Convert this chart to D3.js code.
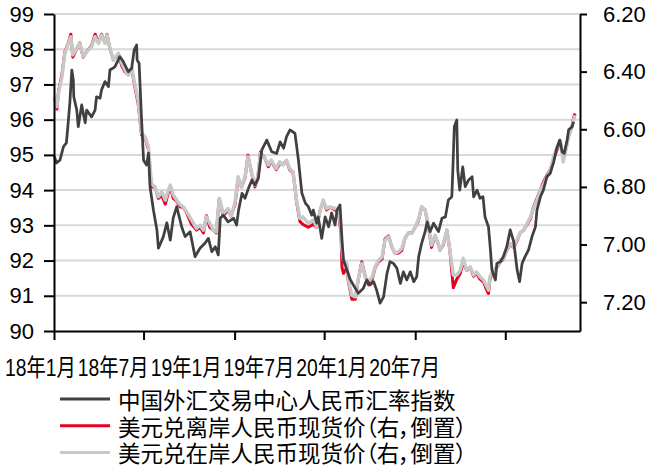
<!DOCTYPE html>
<html>
<head>
<meta charset="utf-8">
<script src="https://cdn.jsdelivr.net/npm/d3@7"></script>
<style>
  body { margin: 0; background: #fff; }
  text { font-family: "Liberation Sans", Arial, "Noto Sans CJK SC", sans-serif; fill: #000; }
  .legend text { font-family: "Noto Sans CJK SC", sans-serif; font-feature-settings: "palt"; }
</style>
</head>
<body>
<svg id="chart" width="648" height="469"></svg>
<script>
// CFETS RMB index (left axis)
var indexDates = [
  "2018-01-02","2018-01-06","2018-01-13","2018-01-20","2018-01-26","2018-01-29","2018-02-02","2018-02-06","2018-02-09","2018-02-10",
  "2018-02-16","2018-02-19","2018-02-26","2018-03-01","2018-03-05","2018-03-08","2018-03-18","2018-03-25","2018-03-28","2018-04-04",
  "2018-04-07","2018-04-14","2018-04-21","2018-04-24","2018-05-04","2018-05-14","2018-05-21","2018-05-31","2018-06-07","2018-06-12",
  "2018-06-17","2018-06-18","2018-06-22","2018-06-27","2018-07-01","2018-07-07","2018-07-11","2018-07-14","2018-07-21","2018-07-28",
  "2018-07-31","2018-08-10","2018-08-17","2018-08-24","2018-08-30","2018-09-06","2018-09-16","2018-09-23","2018-10-03","2018-10-13",
  "2018-10-23","2018-11-02","2018-11-09","2018-11-16","2018-11-23","2018-11-29","2018-12-03","2018-12-09","2018-12-19","2018-12-30",
  "2019-01-05","2019-01-09","2019-01-16","2019-01-22","2019-01-29","2019-02-05","2019-02-11","2019-02-18","2019-02-25","2019-03-07",
  "2019-03-17","2019-03-27","2019-04-03","2019-04-10","2019-04-16","2019-04-23","2019-05-03","2019-05-10","2019-05-17","2019-05-24",
  "2019-05-30","2019-06-06","2019-06-09","2019-06-16","2019-06-19","2019-06-26","2019-07-03","2019-07-10","2019-07-16","2019-07-23",
  "2019-07-27","2019-08-02","2019-08-06","2019-08-09","2019-08-16","2019-08-23","2019-09-02","2019-09-08","2019-09-18","2019-09-25",
  "2019-10-02","2019-10-09","2019-10-15","2019-10-22","2019-10-29","2019-11-05","2019-11-11","2019-11-18","2019-11-25","2019-12-02",
  "2019-12-08","2019-12-15","2019-12-22","2019-12-29","2020-01-04","2020-01-08","2020-01-14","2020-01-21","2020-01-25","2020-01-31",
  "2020-02-07","2020-02-17","2020-02-24","2020-03-02","2020-03-08","2020-03-15","2020-03-17","2020-03-20","2020-03-25","2020-03-27",
  "2020-03-31","2020-04-06","2020-04-11","2020-04-18","2020-04-25","2020-04-28","2020-05-05","2020-05-11","2020-05-17","2020-05-21",
  "2020-05-28","2020-06-01","2020-06-04","2020-06-11","2020-06-14","2020-06-21","2020-06-27","2020-07-04","2020-07-11","2020-07-18",
  "2020-07-25","2020-07-30","2020-08-04","2020-08-10","2020-08-17","2020-08-24","2020-08-31","2020-09-03","2020-09-10","2020-09-16",
  "2020-09-23","2020-09-30","2020-10-07","2020-10-13","2020-10-19","2020-10-24","2020-10-28","2020-11-03","2020-11-06","2020-11-13",
  "2020-11-16"
];
var cfetsIndex = [
  94.95, 94.77, 94.85, 95.23, 95.34, 95.80, 96.47, 97.41, 97.13, 96.65,
  96.27, 95.80, 96.42, 96.19, 95.91, 96.27, 96.08, 96.27, 96.65, 96.61,
  96.84, 97.08, 96.94, 97.41, 97.50, 97.79, 97.65, 97.36, 97.46, 97.98,
  98.12, 97.69, 97.60, 95.99, 94.85, 94.71, 95.05, 94.10, 93.43, 92.87,
  92.35, 92.68, 93.07, 92.58, 93.21, 93.53, 92.96, 92.68, 92.82, 92.11,
  92.35, 92.49, 92.63, 92.25, 92.39, 92.16, 93.20, 93.29, 93.10, 93.20,
  93.01, 93.43, 93.91, 93.77, 94.05, 94.29, 94.14, 94.34, 95.14, 95.42,
  95.09, 95.04, 95.37, 95.19, 95.52, 95.71, 95.61, 94.85, 93.91, 93.63,
  93.53, 93.29, 93.43, 93.06, 93.24, 92.63, 93.24, 92.96, 93.35, 93.01,
  93.43, 93.58, 92.58, 92.02, 91.73, 91.45, 91.21, 91.07, 91.21, 91.45,
  91.31, 91.40, 91.16, 90.79, 90.97, 91.64, 91.97, 91.92, 91.78, 91.35,
  91.68, 91.45, 91.68, 91.40, 91.54, 92.11, 92.49, 92.82, 93.10, 92.82,
  93.06, 92.82, 93.20, 93.24, 93.72, 93.81, 94.57, 95.80, 95.99, 94.57,
  94.00, 94.66, 94.10, 94.29, 94.38, 93.81, 94.00, 93.77, 93.81, 93.24,
  92.96, 92.30, 91.73, 91.45, 91.92, 91.97, 92.11, 92.39, 92.87, 92.54,
  91.73, 91.40, 91.92, 92.11, 92.30, 92.68, 92.96, 93.43, 93.81, 94.00,
  94.38, 94.48, 94.81, 95.19, 95.42, 95.09, 95.04, 95.42, 95.71, 95.80,
  95.94
];

// USD/CNY onshore and USD/CNH offshore (right axis, inverted)
var fxDates = [
  "2018-01-02","2018-01-07","2018-01-10","2018-01-17","2018-01-23","2018-01-30","2018-02-04","2018-02-08","2018-02-16","2018-02-22",
  "2018-03-01","2018-03-08","2018-03-18","2018-03-25","2018-04-01","2018-04-07","2018-04-14","2018-04-18","2018-04-24","2018-05-01",
  "2018-05-11","2018-05-18","2018-05-24","2018-05-31","2018-06-07","2018-06-13","2018-06-20","2018-06-27","2018-07-04","2018-07-11",
  "2018-07-14","2018-07-17","2018-07-24","2018-07-31","2018-08-07","2018-08-14","2018-08-20","2018-08-24","2018-08-30","2018-09-06",
  "2018-09-13","2018-09-19","2018-09-26","2018-10-06","2018-10-16","2018-10-23","2018-10-30","2018-11-05","2018-11-12","2018-11-19",
  "2018-11-25","2018-12-01","2018-12-09","2018-12-19","2018-12-25","2019-01-02","2019-01-08","2019-01-15","2019-01-22","2019-01-28",
  "2019-02-04","2019-02-11","2019-02-17","2019-02-22","2019-03-03","2019-03-10","2019-03-16","2019-03-26","2019-04-02","2019-04-09",
  "2019-04-16","2019-04-22","2019-04-29","2019-05-03","2019-05-06","2019-05-13","2019-05-19","2019-05-30","2019-06-09","2019-06-16",
  "2019-06-23","2019-06-29","2019-07-06","2019-07-13","2019-07-23","2019-07-30","2019-08-04","2019-08-06","2019-08-09","2019-08-16",
  "2019-08-19","2019-08-26","2019-09-02","2019-09-08","2019-09-15","2019-09-22","2019-09-29","2019-10-06","2019-10-12","2019-10-19",
  "2019-10-26","2019-11-01","2019-11-08","2019-11-15","2019-11-21","2019-11-28","2019-12-05","2019-12-11","2019-12-18","2019-12-25",
  "2020-01-01","2020-01-07","2020-01-14","2020-01-21","2020-01-27","2020-02-03","2020-02-10","2020-02-17","2020-02-20","2020-02-27",
  "2020-03-05","2020-03-11","2020-03-18","2020-03-25","2020-04-01","2020-04-07","2020-04-14","2020-04-21","2020-04-28","2020-05-04",
  "2020-05-11","2020-05-18","2020-05-25","2020-05-28","2020-05-31","2020-06-07","2020-06-14","2020-06-21","2020-06-27","2020-07-04",
  "2020-07-11","2020-07-18","2020-07-24","2020-07-31","2020-08-07","2020-08-14","2020-08-21","2020-08-27","2020-09-03","2020-09-10",
  "2020-09-17","2020-09-23","2020-09-30","2020-10-07","2020-10-14","2020-10-20","2020-10-26","2020-10-30","2020-11-06","2020-11-13",
  "2020-11-16","2020-11-19"
];
var cnyOnshore = [
  6.487, 6.522, 6.475, 6.418, 6.336, 6.302, 6.279, 6.342, 6.319, 6.302,
  6.348, 6.331, 6.314, 6.279, 6.302, 6.273, 6.302, 6.273, 6.319, 6.360,
  6.336, 6.371, 6.394, 6.412, 6.389, 6.441, 6.499, 6.614, 6.626, 6.661,
  6.730, 6.788, 6.800, 6.834, 6.817, 6.846, 6.811, 6.794, 6.828, 6.846,
  6.863, 6.869, 6.886, 6.915, 6.944, 6.933, 6.950, 6.904, 6.927, 6.950,
  6.956, 6.840, 6.892, 6.875, 6.904, 6.852, 6.765, 6.800, 6.765, 6.695,
  6.748, 6.794, 6.765, 6.684, 6.701, 6.724, 6.707, 6.736, 6.713, 6.724,
  6.707, 6.736, 6.748, 6.800, 6.846, 6.909, 6.904, 6.927, 6.915, 6.939,
  6.881, 6.846, 6.875, 6.869, 6.875, 6.881, 6.939, 7.019, 7.054, 7.066,
  7.124, 7.176, 7.182, 7.118, 7.066, 7.112, 7.129, 7.112, 7.077, 7.054,
  7.043, 6.985, 6.973, 7.008, 7.031, 7.025, 7.014, 6.979, 6.961, 6.961,
  6.939, 6.915, 6.869, 6.881, 6.927, 7.002, 6.967, 7.002, 7.019, 6.996,
  6.950, 7.019, 7.106, 7.106, 7.089, 7.048, 7.089, 7.077, 7.106, 7.095,
  7.112, 7.124, 7.147, 7.158, 7.112, 7.089, 7.077, 7.054, 7.048, 7.019,
  6.996, 7.008, 6.985, 6.961, 6.950, 6.927, 6.904, 6.875, 6.846, 6.811,
  6.788, 6.765, 6.742, 6.695, 6.661, 6.638, 6.713, 6.684, 6.626, 6.591,
  6.568, 6.551
];
var cnhOffshore = [
  6.49, 6.53, 6.47, 6.41, 6.33, 6.30, 6.27, 6.35, 6.32, 6.30,
  6.35, 6.33, 6.31, 6.27, 6.30, 6.27, 6.30, 6.27, 6.32, 6.36,
  6.34, 6.38, 6.40, 6.41, 6.39, 6.45, 6.51, 6.62, 6.63, 6.67,
  6.74, 6.80, 6.80, 6.84, 6.83, 6.86, 6.82, 6.80, 6.84, 6.85,
  6.87, 6.87, 6.89, 6.93, 6.95, 6.94, 6.96, 6.90, 6.94, 6.95,
  6.96, 6.84, 6.90, 6.88, 6.90, 6.86, 6.77, 6.80, 6.77, 6.69,
  6.75, 6.80, 6.77, 6.68, 6.70, 6.73, 6.71, 6.74, 6.72, 6.72,
  6.71, 6.74, 6.75, 6.80, 6.85, 6.92, 6.93, 6.94, 6.93, 6.94,
  6.88, 6.85, 6.88, 6.87, 6.88, 6.89, 6.96, 7.08, 7.10, 7.08,
  7.13, 7.19, 7.19, 7.12, 7.06, 7.11, 7.14, 7.12, 7.08, 7.06,
  7.05, 6.98, 6.97, 7.01, 7.03, 7.03, 7.02, 6.98, 6.96, 6.96,
  6.94, 6.92, 6.87, 6.88, 6.93, 7.01, 6.97, 7.00, 7.02, 7.00,
  6.95, 7.02, 7.15, 7.12, 7.10, 7.06, 7.09, 7.08, 7.11, 7.10,
  7.12, 7.13, 7.16, 7.17, 7.12, 7.09, 7.08, 7.06, 7.05, 7.02,
  7.00, 7.01, 6.99, 6.96, 6.95, 6.93, 6.91, 6.87, 6.84, 6.81,
  6.78, 6.76, 6.74, 6.70, 6.67, 6.64, 6.70, 6.68, 6.62, 6.59,
  6.56, 6.545
];

var leftTicks = [90, 91, 92, 93, 94, 95, 96, 97, 98, 99];
var rightTicks = [6.2, 6.4, 6.6, 6.8, 7.0, 7.2];
var monthTicks = ["2018-01-01","2018-07-01","2019-01-01","2019-07-01","2020-01-01","2020-07-01"];
var monthLabels = ["18年1月","18年7月","19年1月","19年7月","20年1月","20年7月"];
var seriesNames = ["中国外汇交易中心人民币汇率指数", "美元兑离岸人民币现货价（右，倒置）", "美元兑在岸人民币现货价（右，倒置）"];
var seriesColors = ["#404040", "#e8001e", "#c8c8c8"];

var parse = d3.timeParse("%Y-%m-%d");
var svg = d3.select("#chart");
var plot = { left: 54, right: 580, top: 14, bottom: 331 };

var x = d3.scaleTime().domain([parse("2018-01-01"), parse("2020-11-29")]).range([plot.left, plot.right]);
var yL = d3.scaleLinear().domain([90, 99]).range([plot.bottom, plot.top]);
var yR = d3.scaleLinear().domain([7.3, 6.2]).range([plot.bottom, plot.top]);

// gridlines
svg.append("g")
   .selectAll("line")
   .data(leftTicks.slice(1))
   .enter().append("line")
           .attr("x1", plot.left).attr("x2", plot.right)
           .attr("y1", function(d) { return yL(d); })
           .attr("y2", function(d) { return yL(d); })
           .attr("stroke", "#d9d9d9").attr("stroke-width", 2);

var idx = indexDates.map(function(d, i) { return { date: parse(d), v: cfetsIndex[i] }; });
var cny = fxDates.map(function(d, i) { return { date: parse(d), v: cnyOnshore[i] }; });
var cnh = fxDates.map(function(d, i) { return { date: parse(d), v: cnhOffshore[i] }; });

var lineL = d3.line().x(function(d) { return x(d.date); }).y(function(d) { return yL(d.v); });
var lineR = d3.line().x(function(d) { return x(d.date); }).y(function(d) { return yR(d.v); });

svg.append("path").datum(cnh).attr("d", lineR)
   .attr("fill", "none").attr("stroke", seriesColors[1]).attr("stroke-width", 3).attr("stroke-linejoin", "round");
svg.append("path").datum(cny).attr("d", lineR)
   .attr("fill", "none").attr("stroke", seriesColors[2]).attr("stroke-width", 3.5).attr("stroke-linejoin", "round");
svg.append("path").datum(idx).attr("d", lineL)
   .attr("fill", "none").attr("stroke", seriesColors[0]).attr("stroke-width", 2.75).attr("stroke-linejoin", "round");

// axes
function styleAxis(g) {
    g.selectAll("path, line").attr("stroke", "#000").attr("stroke-width", 2);
    g.selectAll("text").attr("fill", "#000").style("font-size", "22px")
     .style("font-family", "'Liberation Sans', Arial, sans-serif");
}

svg.append("g")
   .attr("transform", "translate(" + plot.left + ",0)")
   .call(d3.axisLeft(yL).tickValues(leftTicks).tickFormat(d3.format("d")).tickSize(10).tickSizeOuter(0).tickPadding(10))
   .call(styleAxis);

svg.append("g")
   .attr("transform", "translate(" + plot.right + ",0)")
   .call(d3.axisRight(yR).tickValues(rightTicks).tickFormat(d3.format(".2f")).tickSize(7).tickSizeOuter(0).tickPadding(16))
   .call(styleAxis);

svg.append("g")
   .attr("transform", "translate(0," + plot.bottom + ")")
   .call(d3.axisBottom(x).tickValues(monthTicks.map(parse)).tickFormat("").tickSize(9).tickSizeOuter(0))
   .call(styleAxis);

// category labels run together under the axis
var band = d3.scaleBand().domain(monthLabels).range([5, 442]);
svg.append("g")
   .selectAll("text")
   .data(monthLabels)
   .enter().append("text")
           .attr("x", function(d) { return band(d); })
           .attr("y", 376)
           .attr("textLength", band.bandwidth() - 2)
           .attr("lengthAdjust", "spacingAndGlyphs")
           .style("font-size", "24px")
           .text(function(d) { return d; });

// legend
var legend = svg.append("g").attr("class", "legend");
var rows = legend.selectAll("g")
   .data(seriesNames)
   .enter().append("g")
           .attr("transform", function(d, i) { return "translate(0," + (399 + i * 26.7) + ")"; });
rows.append("line")
    .attr("x1", 60).attr("x2", 110)
    .attr("stroke", function(d, i) { return seriesColors[i]; })
    .attr("stroke-width", 3);
rows.append("text")
    .attr("x", 118).attr("y", 10)
    .style("font-size", "22.5px")
    .text(function(d) { return d; });
</script>
</body>
</html>
